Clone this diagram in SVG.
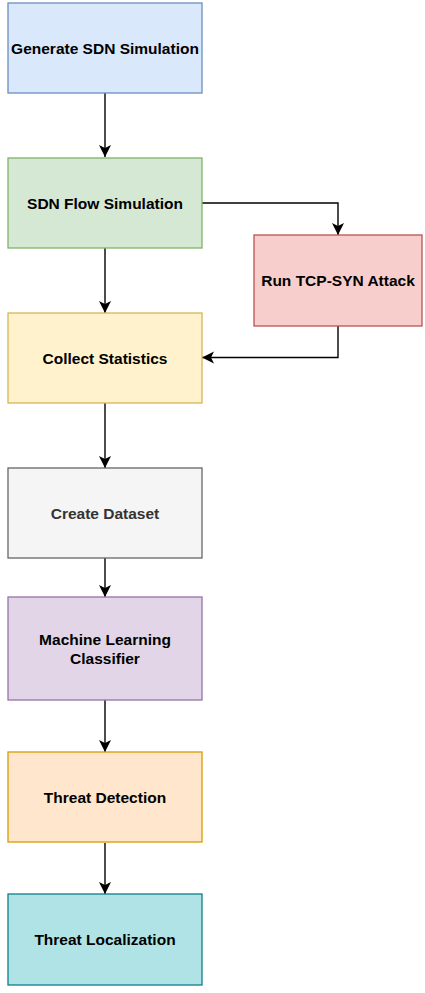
<svg xmlns="http://www.w3.org/2000/svg" width="425" height="993" viewBox="0 0 425 993">
<style>
.t{font-family:"Liberation Sans",Arial,sans-serif;font-weight:bold;font-size:15.5px;text-anchor:middle;fill:#000}
rect{stroke-width:1.3}
.c{fill:none;stroke:#000;stroke-width:1.4}
</style>
<defs>
<marker id="a" markerWidth="13" markerHeight="13" viewBox="0 0 13 13" refX="12" refY="6.5" orient="auto" markerUnits="userSpaceOnUse">
<path d="M0,0.5 L12,6.5 L0,12.5 L3,6.5 Z" fill="#000"/>
</marker>
</defs>
<rect width="425" height="993" fill="#fff"/>
<g id="connectors">
<path class="c" d="M105,93 V157" marker-end="url(#a)"/>
<path class="c" d="M202,203 H338 V235" marker-end="url(#a)"/>
<path class="c" d="M105,248 V313" marker-end="url(#a)"/>
<path class="c" d="M338,326 V357.5 H202" marker-end="url(#a)"/>
<path class="c" d="M105,403 V468" marker-end="url(#a)"/>
<path class="c" d="M105,558 V597" marker-end="url(#a)"/>
<path class="c" d="M105,700 V752" marker-end="url(#a)"/>
<path class="c" d="M105,843 V894" marker-end="url(#a)"/>
</g>
<g id="n1"><rect x="8" y="3" width="194" height="90" fill="#dae8fc" stroke="#6c8ebf"/><text class="t" x="105" y="53.5">Generate SDN Simulation</text></g>
<g id="n2"><rect x="8" y="158" width="194" height="90" fill="#d5e8d4" stroke="#82b366"/><text class="t" x="105" y="208.5">SDN Flow Simulation</text></g>
<g id="n3"><rect x="254" y="235" width="168" height="91" fill="#f8cecc" stroke="#b85450"/><text class="t" x="338" y="285.5">Run TCP-SYN Attack</text></g>
<g id="n4"><rect x="8" y="313" width="194" height="90" fill="#fff2cc" stroke="#d6b656"/><text class="t" x="105" y="363.5">Collect Statistics</text></g>
<g id="n5"><rect x="8" y="468" width="194" height="90" fill="#f5f5f5" stroke="#666666"/><text class="t" x="105" y="518.5" style="fill:#333">Create Dataset</text></g>
<g id="n6"><rect x="8" y="597" width="194" height="103" fill="#e1d5e7" stroke="#9673a6"/><text class="t" x="105" y="645">Machine Learning</text><text class="t" x="105" y="664">Classifier</text></g>
<g id="n7"><rect x="8" y="752" width="194" height="90" fill="#ffe6cc" stroke="#d79b00"/><text class="t" x="105" y="802.5">Threat Detection</text></g>
<g id="n8"><rect x="8" y="894" width="194" height="91" fill="#b0e3e6" stroke="#0e8088"/><text class="t" x="105" y="944.5">Threat Localization</text></g>
</svg>
